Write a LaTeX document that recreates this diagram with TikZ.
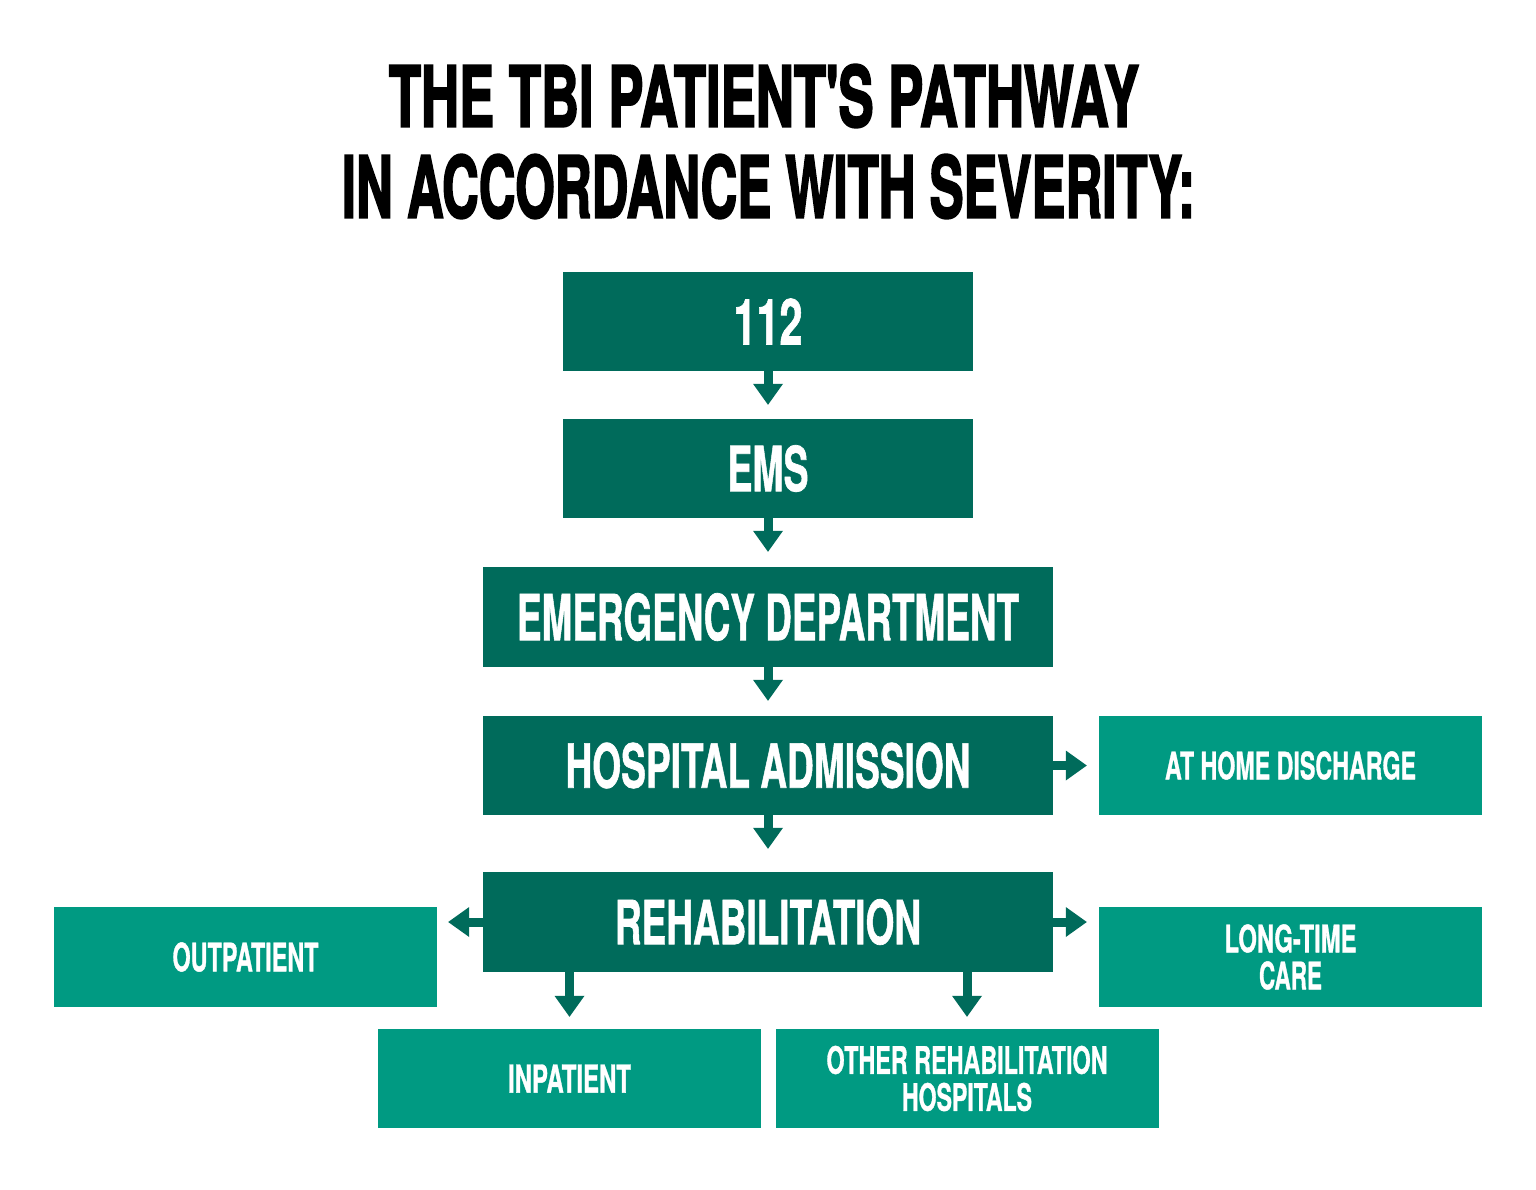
\documentclass[tikz,border=0pt]{standalone}
\usepackage{fontspec}
\usepackage{graphicx}
\setmainfont{TeX Gyre Heros}
\newfontfamily\heavyfont[BoldFeatures={FakeBold=2.8}]{TeX Gyre Heros}
\newfontfamily\boxfont[BoldFeatures={FakeBold=1.2}]{TeX Gyre Heros}
\usetikzlibrary{arrows.meta}
\definecolor{darkgreen}{HTML}{006B5B}
\definecolor{lightgreen}{HTML}{009A82}
\newcommand\fitt[3]{\resizebox{#1pt}{#2pt}{#3}}
\tikzset{
  darkbox/.style={rectangle, fill=darkgreen, inner sep=0pt, text=white, font=\boxfont\bfseries, minimum height=99pt},
  lightbox/.style={rectangle, fill=lightgreen, inner sep=0pt, text=white, font=\boxfont\bfseries\fontsize{10}{37}\selectfont, align=center, minimum width=383pt, minimum height=99pt},
  arr/.style={draw=darkgreen, line width=9pt, -{Triangle[width=30pt,length=21pt,line width=0pt]}},
  titletext/.style={inner sep=0pt, text=black, font=\heavyfont\bfseries}
}
\begin{document}
\begin{tikzpicture}[x=1pt,y=-1pt]
\path[use as bounding box, fill=white] (0,0) rectangle (1536,1189);
% title
\node[titletext] (t1) at (764,96) {\fitt{750}{62}{THE TBI PATIENT'S PATHWAY}};
\node[titletext] (t2) at (768.5,186.5) {\fitt{853}{63}{IN ACCORDANCE WITH SEVERITY:}};
% main chain
\node[darkbox, minimum width=410pt] (n112) at (768,321.5) {\fitt{69}{46}{112}};
\node[darkbox, minimum width=410pt] (ems) at (768,468.5) {\fitt{81}{46}{EMS}};
\node[darkbox, minimum width=570pt, minimum height=100pt] (ed) at (768,617) {\fitt{502}{47}{EMERGENCY DEPARTMENT}};
\node[darkbox, minimum width=570pt] (ha) at (768,765.5) {\fitt{405}{45}{HOSPITAL ADMISSION}};
\node[darkbox, minimum width=570pt, minimum height=100pt] (rehab) at (768,922) {\fitt{306}{45}{REHABILITATION}};
% outcomes
\node[lightbox] (home) at (1290.5,765.5) {\fitt{251}{28}{AT HOME DISCHARGE}};
\node[lightbox, minimum height=100pt] (ltc) at (1290.5,957) {\fitt{132}{28}{LONG-TIME}\\\fitt{63}{28}{CARE}};
\node[lightbox, minimum height=100pt] (out) at (245.5,957) {\fitt{146}{29}{OUTPATIENT}};
\node[lightbox] (inp) at (569.5,1078.5) {\fitt{123}{28}{INPATIENT}};
\node[lightbox] (oth) at (967,1078.5) {\fitt{281}{28}{OTHER REHABILITATION}\\\fitt{130}{28}{HOSPITALS}};
% connectors
\draw[arr, shorten >=14pt] (n112) -- (ems);
\draw[arr, shorten >=15pt] (ems) -- (ed);
\draw[arr, shorten >=15pt] (ed) -- (ha);
\draw[arr, shorten >=23pt] (ha) -- (rehab);
\draw[arr, shorten >=12pt] (ha) -- (home);
\draw[arr, shorten >=12pt] (rehab.east) -- (rehab.east -| ltc.west);
\draw[arr, shorten >=11pt] (rehab.west) -- (rehab.west -| out.east);
\draw[arr, shorten >=12pt] (rehab.south -| inp.north) -- (inp.north);
\draw[arr, shorten >=12pt] (rehab.south -| oth.north) -- (oth.north);
\end{tikzpicture}
\end{document}
